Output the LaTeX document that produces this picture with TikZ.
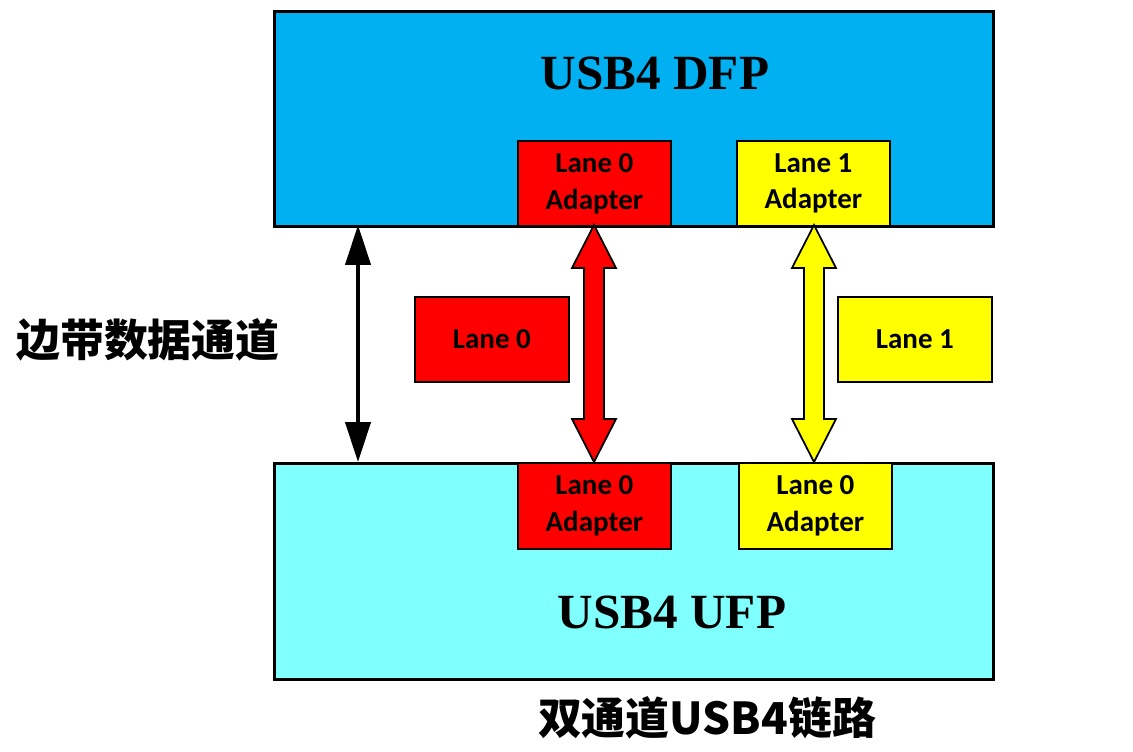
\documentclass[tikz,border=0pt]{standalone}
\usepackage{fontspec}
\setmainfont{Liberation Serif}
\newfontfamily\calfont{Carlito}
\newfontfamily\cjk{Noto Sans CJK SC}
\usetikzlibrary{arrows.meta,calc}
\definecolor{dfp}{HTML}{00B0F0}
\definecolor{ufp}{HTML}{80FFFF}
\definecolor{yl}{HTML}{FFFF00}
\tikzset{
 x=0.02cm,y=-0.02cm,
 bigbox/.style={draw=black,line width=1.5pt,anchor=north west,inner sep=0},
 lanebox/.style={draw=black,line width=1pt,anchor=north west,inner sep=0,font=\calfont\bfseries\fontsize{16.5}{21}\selectfont,align=center},
 title/.style={font=\bfseries\fontsize{28}{32}\selectfont},
 zh/.style={font=\cjk\bfseries\fontsize{25}{28}\selectfont},
 blockarrow/.style={draw=black,line width=1pt}
}
\begin{document}
\begin{tikzpicture}
\useasboundingbox (0,0) rectangle (1133,751);
\node[bigbox,fill=dfp,minimum width=719*0.02cm,minimum height=215*0.02cm] (dfp) at (273,10) {};
\node[bigbox,fill=ufp,minimum width=719*0.02cm,minimum height=216*0.02cm] (ufp) at (273,462) {};
\node[title] (t1) at (655,73) {USB4 DFP};
\node[title] (t2) at (672,612) {USB4 UFP};
\node[lanebox,fill=red,minimum width=153*0.02cm,minimum height=85*0.02cm] (a0) at (517,140) {Lane 0\\Adapter};
\node[lanebox,fill=yl,minimum width=153*0.02cm,minimum height=85*0.02cm] (a1) at (736,140) {Lane 1\\Adapter};
\node[lanebox,fill=red,minimum width=153*0.02cm,minimum height=86*0.02cm] (b0) at (517,462) {Lane 0\\Adapter};
\node[lanebox,fill=yl,minimum width=153*0.02cm,minimum height=86*0.02cm] (b1) at (738,462) {Lane 0\\Adapter};
\node[lanebox,fill=red,minimum width=154*0.02cm,minimum height=85*0.02cm] (l0) at (414,296) {Lane 0};
\node[lanebox,fill=yl,minimum width=154*0.02cm,minimum height=85*0.02cm] (l1) at (837,296) {Lane 1};
% block arrows
\foreach \xx/\c in {594/red,814/yl}{
 \draw[blockarrow,fill=\c] (\xx,225) -- (\xx+22,268) -- (\xx+10,268) -- (\xx+10,419) -- (\xx+22,419) -- (\xx,462)
   -- (\xx-22,419) -- (\xx-10,419) -- (\xx-10,268) -- (\xx-22,268) -- cycle;
}
\coordinate (s1) at (358,225);
\coordinate (s2) at (358,462);
\draw[line width=2.5pt,{Triangle[length=0.8cm,width=0.5cm]}-{Triangle[length=0.8cm,width=0.5cm]}] (s1) -- (s2);
\node[zh] (side) at (148,340) {边带数据通道};
\node[zh] (cap) at (707,718) {双通道USB4链路};
\end{tikzpicture}
\end{document}
